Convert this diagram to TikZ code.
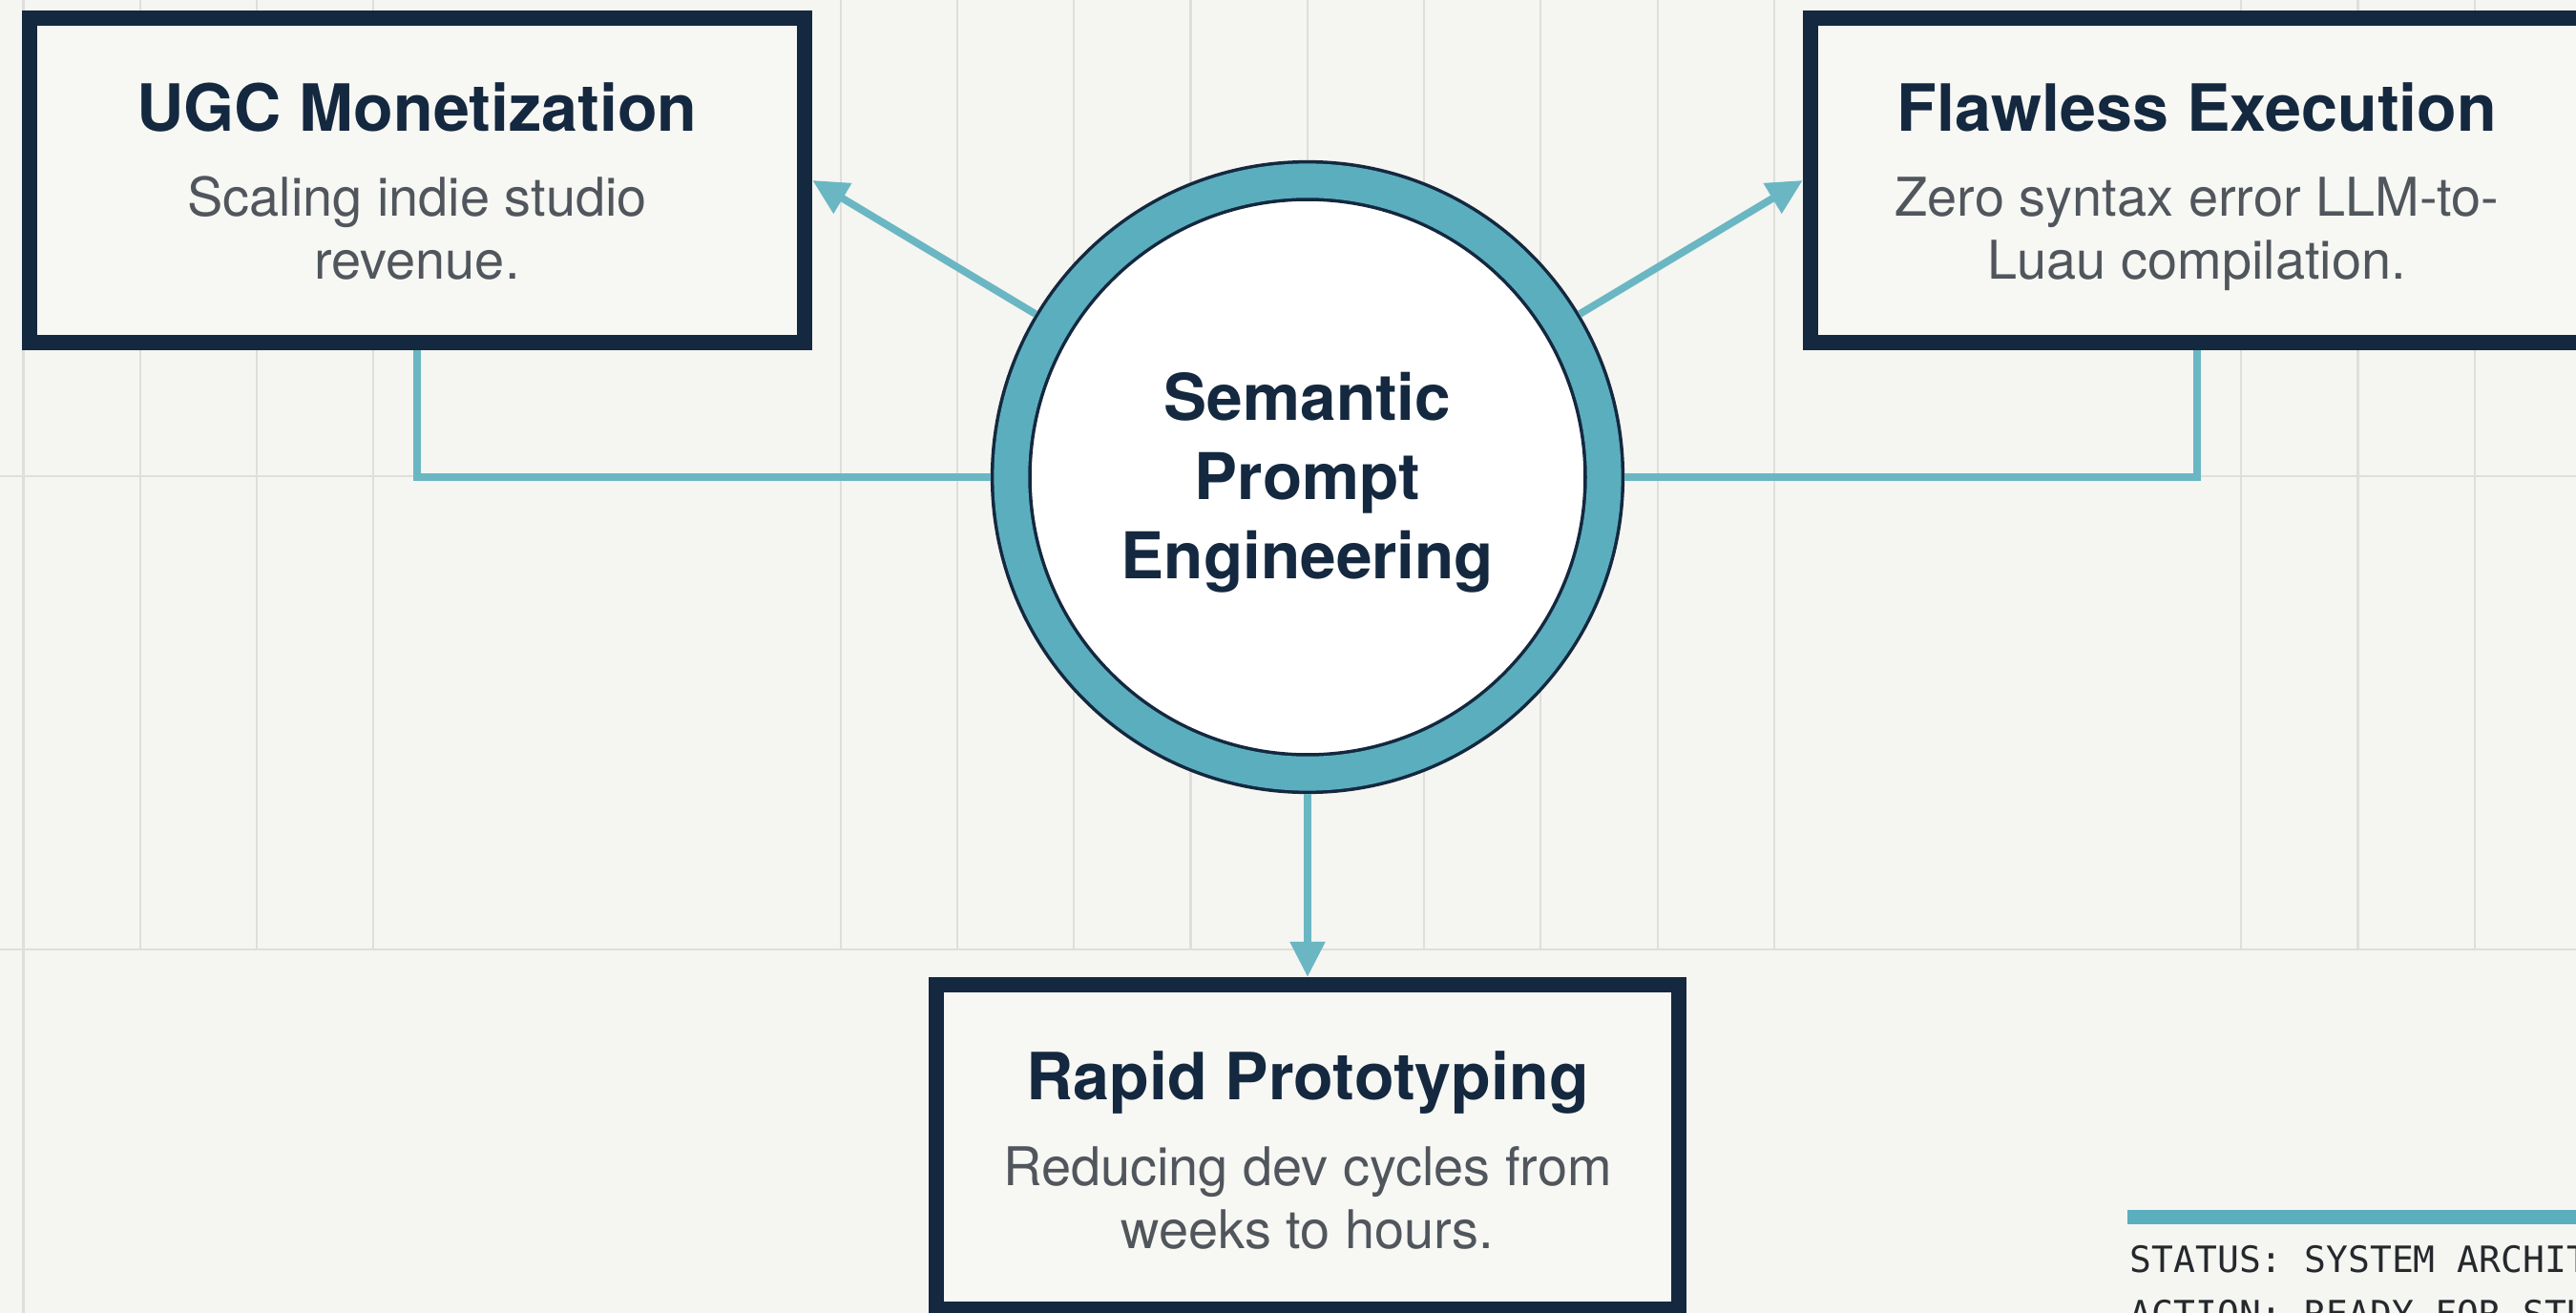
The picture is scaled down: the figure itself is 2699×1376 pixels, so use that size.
\documentclass[tikz,border=0pt]{standalone}
\usepackage{fontspec}
\setmainfont{TeX Gyre Heros}
\newfontfamily\monofont{DejaVu Sans Mono}
\usetikzlibrary{arrows.meta}
\definecolor{bgcol}{HTML}{F5F5F1}
\definecolor{gridcol}{HTML}{DEDEDA}
\definecolor{navy}{HTML}{14283F}
\definecolor{tealring}{HTML}{5BAEBD}
\definecolor{tealline}{HTML}{6AB7C3}
\definecolor{boxfill}{HTML}{F7F7F4}
\definecolor{subgray}{HTML}{50565C}
\definecolor{monogray}{HTML}{25292D}
\tikzset{
  gridline/.style={draw=gridcol, line width=0.6pt},
  infobox/.style={rectangle, draw=navy, line width=4.55pt, fill=boxfill, inner sep=0pt, minimum height=3.40cm},
  titletext/.style={font=\fontsize{19.4}{22}\selectfont\bfseries, text=navy, anchor=base, inner sep=0pt},
  subtext/.style={font=\fontsize{15.9}{18.8}\selectfont, text=subgray, anchor=base, inner sep=0pt},
  coretext/.style={font=\fontsize{19.2}{22}\selectfont\bfseries, text=navy, anchor=base, inner sep=0pt},
  corenode/.style={circle, draw=navy, line width=1pt, double=tealring, double distance=10.2pt, fill=white, minimum size=6.21cm, inner sep=0pt, outer sep=0.215cm},
  conn/.style={draw=tealline, line width=2.2pt},
  arrowconn/.style={conn, -{Triangle[length=10.5pt, width=10pt]}},
  monotext/.style={font=\monofont\fontsize{10.8}{16}\selectfont, text=monogray, anchor=base west, inner sep=0pt}
}
\begin{document}
\begin{tikzpicture}[x=0.01cm, y=-0.01cm]
  \useasboundingbox (0,0) rectangle (2699,1376);
  \clip (0,0) rectangle (2699,1376);
  \fill[bgcol] (0,0) rectangle (2699,1376);
  % grid
  \foreach \k in {0,1,2,3,7,8,9,10,11,12,13,14,15,19,20,21}
    \draw[gridline] ({24.5+122.3*\k},0) -- ({24.5+122.3*\k},995);
  \draw[gridline] (24.5,995) -- (24.5,1376);
  \draw[gridline] (0,499) -- (2699,499);
  \draw[gridline] (0,995) -- (2699,995);

  % boxes
  \node[infobox, minimum width=8.12cm] (ugc) at (437,189) {};
  \node[infobox, minimum width=8.10cm] (flaw) at (2302,189) {};
  \node[infobox, minimum width=7.78cm] (proto) at (1370,1202) {};

  \node[titletext] (ugct) at (437,138) {UGC Monetization};
  \node[subtext] (ugcs1) at (437,227) {Scaling indie studio};
  \node[subtext] (ugcs2) at (437,293) {revenue.};

  \node[titletext] (flawt) at (2302,138) {Flawless Execution};
  \node[subtext] (flaws1) at (2302,227) {Zero syntax error LLM-to-};
  \node[subtext] (flaws2) at (2302,293) {Luau compilation.};

  \node[titletext] (protot) at (1370,1152) {Rapid Prototyping};
  \node[subtext] (protos1) at (1370,1242) {Reducing dev cycles from};
  \node[subtext] (protos2) at (1370,1308) {weeks to hours.};

  % core
  \node[corenode] (core) at (1370,500) {};
  \node[coretext] (c1) at (1370,440) {Semantic};
  \node[coretext] (c2) at (1370,523) {Prompt};
  \node[coretext] (c3) at (1370,606) {Engineering};

  % connectors
  \draw[arrowconn] (core) -- (ugc.east);
  \draw[arrowconn] (core) -- (flaw.west);
  \draw[arrowconn] (core) -- (proto.north);
  \draw[conn] (core.west) -| (ugc.south);
  \draw[conn] (core.east) -| (flaw.south);

  % status
  \fill[tealring] (2229,1268) rectangle (2699,1283);
  \node[monotext] (st1) at (2231,1333) {STATUS: SYSTEM ARCHIT};
  \node[monotext] (st2) at (2231,1390) {ACTION: READY FOR STU};
\end{tikzpicture}
\end{document}
